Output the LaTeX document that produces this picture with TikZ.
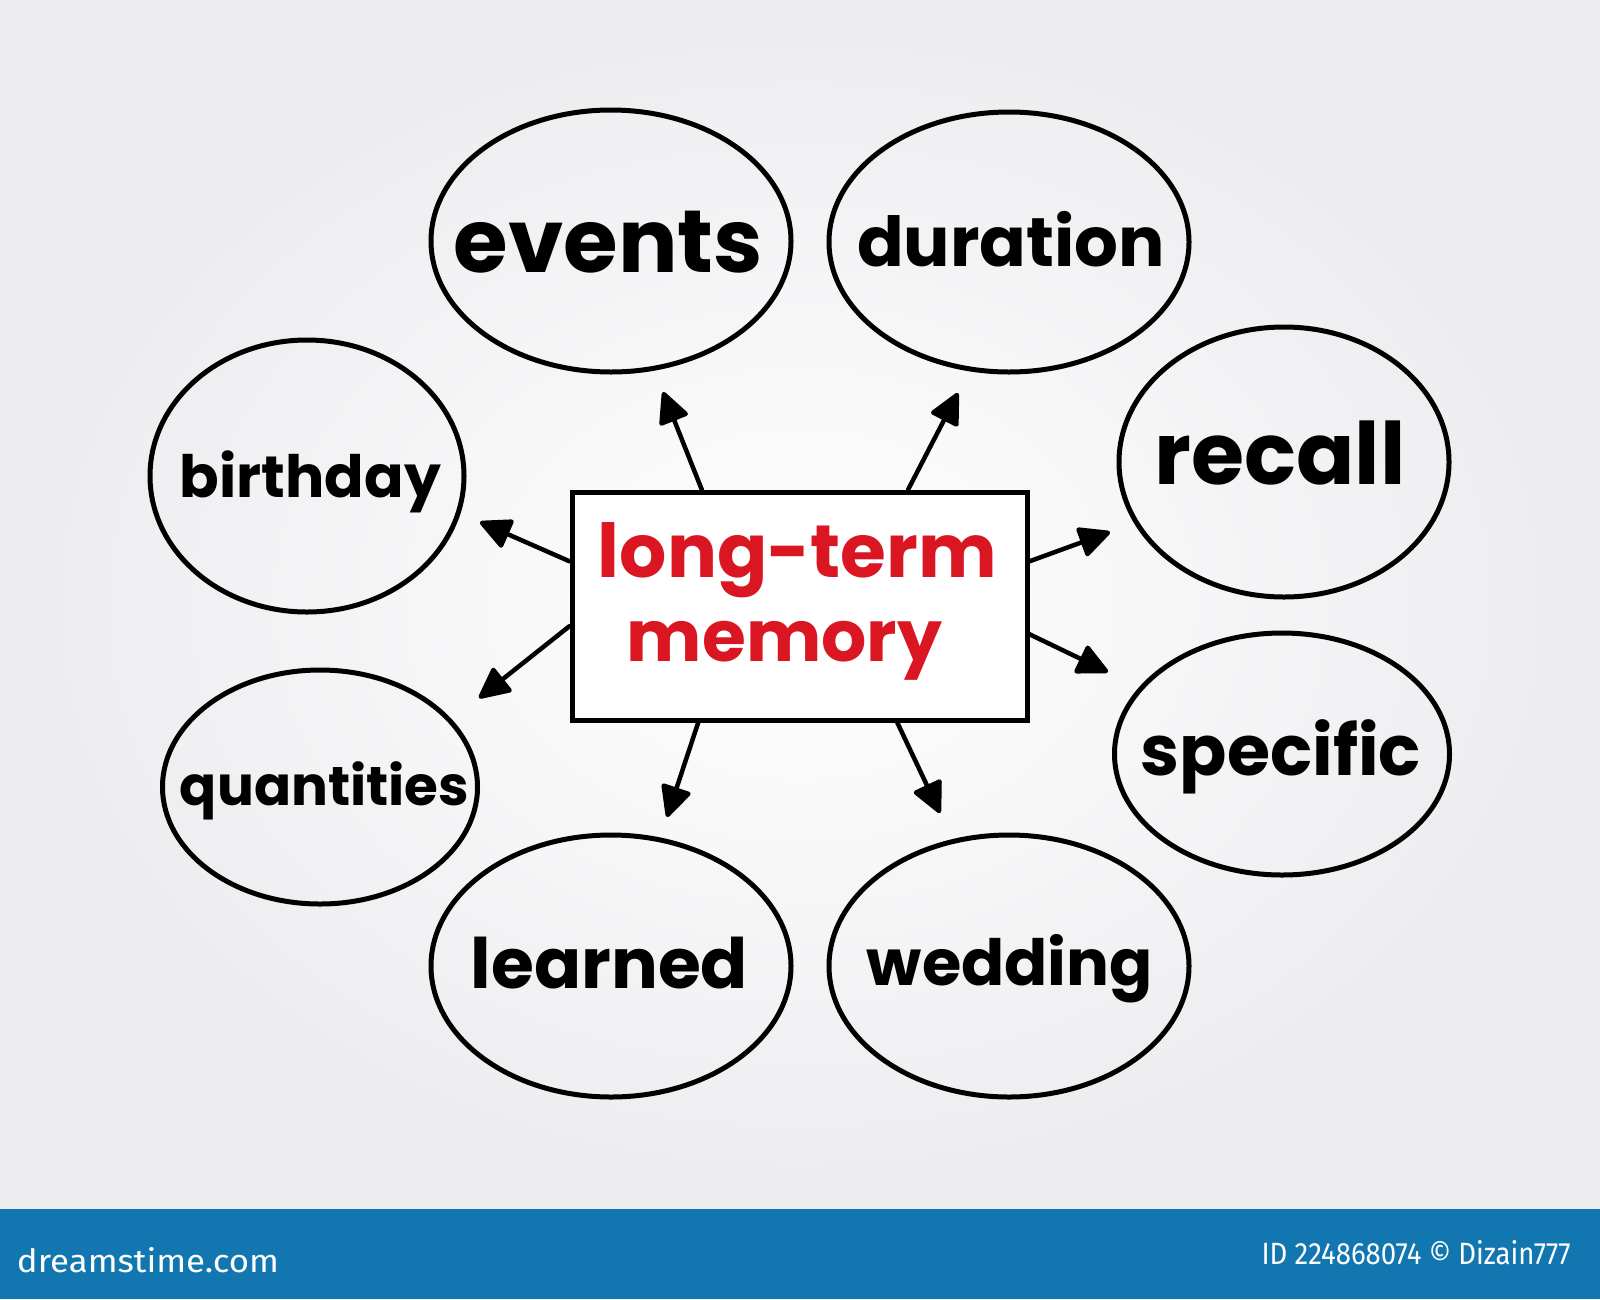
\documentclass[tikz,border=0pt]{standalone}
\usepackage{fontspec}
\setmainfont{Poppins}
\newfontfamily\barfont{Fira Sans}
\usetikzlibrary{shapes.geometric,arrows.meta,calc}
\definecolor{memred}{RGB}{218,22,34}
\definecolor{barblue}{RGB}{18,119,176}
\definecolor{bggray}{RGB}{236,236,239}
\newcommand{\fitw}[2]{\resizebox{#1}{!}{#2}}
\begin{document}
\begin{tikzpicture}[x=1pt,y=-1pt,
  bubble/.style={draw=black, line width=5pt, ellipse, inner sep=0pt},
  word/.style={inner sep=0pt, font=\bfseries},
  title/.style={inner sep=0pt, font=\bfseries, text=memred},
  arr/.style={line width=4.5pt, line cap=round, -{Triangle[length=34pt,width=32pt,round]}},
  bartext/.style={inner sep=0pt, text=white, font=\barfont}
]
\useasboundingbox (0,0) rectangle (1600,1299);
\shade[inner color=white, outer color=bggray] (0,0) rectangle (1600,1209);
\fill[barblue] (0,1209) rectangle (1600,1299);

% central box
\node[draw=black, fill=white, line width=5pt, minimum width=455, minimum height=228, inner sep=0pt] (box) at (799.5,606) {};
\node[title] (t1) at (797.5,560) {\fitw{399pt}{long-term}};
\node[title] (t2) at (784.5,651) {\fitw{315pt}{memory}};

% bubbles
\node[bubble, minimum width=360, minimum height=262] (events) at (611,241) {};
\node[bubble, minimum width=360, minimum height=260] (duration) at (1009,242) {};
\node[bubble, minimum width=330, minimum height=270] (recall) at (1284,462) {};
\node[bubble, minimum width=335, minimum height=242] (specific) at (1282,754) {};
\node[bubble, minimum width=360, minimum height=262] (wedding) at (1009,966) {};
\node[bubble, minimum width=360, minimum height=262] (learned) at (611,966) {};
\node[bubble, minimum width=315, minimum height=234] (quantities) at (320,787) {};
\node[bubble, minimum width=314, minimum height=272] (birthday) at (307,476) {};

% words
\node[word] (wevents) at (608.5,242) {\fitw{309pt}{events}};
\node[word] (wduration) at (1011,239) {\fitw{308pt}{duration}};
\node[word] (wrecall) at (1280,453) {\fitw{251pt}{recall}};
\node[word] (wspecific) at (1281,757) {\fitw{280pt}{specific}};
\node[word] (wwedding) at (1010,969) {\fitw{286pt}{wedding}};
\node[word] (wlearned) at (609.5,963) {\fitw{277pt}{learned}};
\node[word] (wquantities) at (324.5,791) {\fitw{289pt}{quantities}};
\node[word] (wbirthday) at (310.5,482) {\fitw{261pt}{birthday}};

% arrow tips
\coordinate (aev) at (663,392);
\coordinate (adu) at (958,393);
\coordinate (are) at (1110,532);
\coordinate (asp) at (1108,672);
\coordinate (awe) at (940,813);
\coordinate (ale) at (667,817);
\coordinate (aqu) at (479,698);
\coordinate (abi) at (480,522);

\draw[arr] (box.130.5) -- (aev);
\draw[arr] (box.47.1) -- (adu);
\draw[arr] (box.11) -- (are);
\draw[arr] (box.-7.7) -- (asp);
\draw[arr] (box.-50) -- (awe);
\draw[arr] (box.-131.5) -- (ale);
\draw[arr] (box.185.5) -- (aqu);
\draw[arr] (box.169.9) -- (abi);

% footer
\node[bartext] (logo) at (148,1260) {\resizebox{262pt}{25pt}{dreamstime.com}};
\node[bartext] (credit) at (1416,1253) {\resizebox{309pt}{24pt}{ID 224868074 © Dizain777}};
\end{tikzpicture}
\end{document}
